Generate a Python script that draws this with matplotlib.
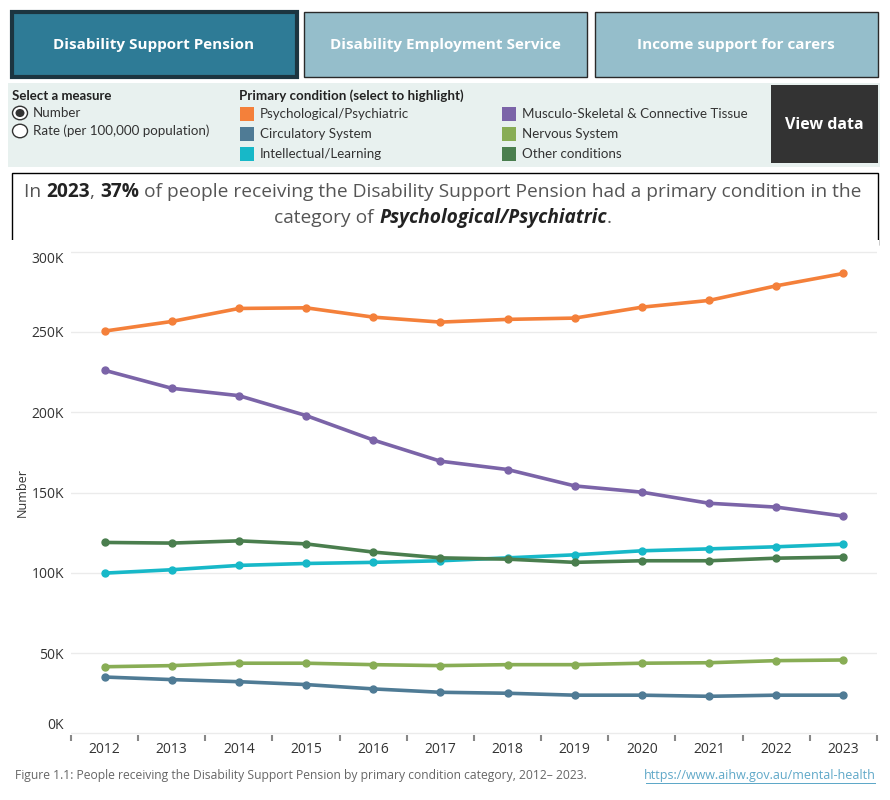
import matplotlib
matplotlib.use("Agg")
import matplotlib.pyplot as plt
from matplotlib.patches import Rectangle, Circle

plt.rcParams['font.family'] = ['Lato', 'DejaVu Sans']

years = [2012, 2013, 2014, 2015, 2016, 2017, 2018, 2019, 2020, 2021, 2022, 2023]
conditions = ["Psychological/Psychiatric", "Circulatory System", "Intellectual/Learning",
              "Musculo-Skeletal & Connective Tissue", "Nervous System", "Other conditions"]
colors = ["#F4803A", "#4F7B95", "#17B8C8", "#7B64A8", "#88AD55", "#4A7E4E"]

psych = [250500, 256500, 264600, 265000, 259200, 256100, 257800, 258600, 265400, 269600, 278700, 286400]
circ = [35100, 33500, 32200, 30400, 27700, 25600, 25000, 23800, 23800, 23100, 23800, 23800]
intel = [99800, 101900, 104600, 105800, 106500, 107500, 109300, 111200, 113700, 114900, 116200, 117800]
musc = [226100, 214900, 210300, 197900, 182700, 169500, 164300, 154100, 150200, 143300, 140900, 135300]
nerv = [41500, 42200, 43700, 43700, 42800, 42200, 42800, 42800, 43700, 44000, 45300, 45700]
other = [118900, 118500, 119900, 118000, 112900, 109300, 108500, 106500, 107500, 107500, 109100, 109800]
series = [psych, circ, intel, musc, nerv, other]

yticks = [0, 50000, 100000, 150000, 200000, 250000, 300000]
ytick_labels = ["0K", "50K", "100K", "150K", "200K", "250K", "300K"]

W, H = 890, 800
fig = plt.figure(figsize=(W / 100, H / 100), dpi=100, facecolor='white')


def fx(px):
    return px / W


def fy(py):
    return 1 - py / H


def box(x0, y0, x1, y1, **kw):
    r = Rectangle((fx(x0), fy(y1)), fx(x1) - fx(x0), fy(y0) - fy(y1),
                  transform=fig.transFigure, **kw)
    fig.add_artist(r)
    return r


# top buttons
box(12, 12, 297, 77, facecolor='#2E7B96', edgecolor='#1C3540', linewidth=3)
box(304, 12, 587, 77, facecolor='#95BECB', edgecolor='#2A2A2A', linewidth=1)
box(595, 12, 878, 77, facecolor='#95BECB', edgecolor='#2A2A2A', linewidth=1)
btn_font = dict(color='white', fontsize=11, fontweight='bold', ha='center', va='center',
                family=['Open Sans', 'DejaVu Sans'])
fig.text(fx(154), fy(45), "Disability Support Pension", **btn_font)
fig.text(fx(445), fy(45), "Disability Employment Service", **btn_font)
fig.text(fx(736), fy(45), "Income support for carers", **btn_font)

# control panel
box(8, 83, 880, 167, facecolor='#E8F1EF', edgecolor='none')
box(771, 85, 878, 163, facecolor='#333333', edgecolor='none')
fig.text(fx(824.5), fy(125), "View data", color='white', fontsize=11.5, fontweight='bold',
         ha='center', va='center', family=['Open Sans', 'DejaVu Sans'])

fig.text(fx(12), fy(96), "Select a measure", fontsize=9.5, fontweight='bold', color='#222222',
         va='center')
c1 = Circle((fx(20), fy(113)), 7.5 / W, transform=fig.transFigure, facecolor='white',
            edgecolor='#333333', linewidth=1)
fig.add_artist(c1)
c1b = Circle((fx(20), fy(113)), 4.5 / W, transform=fig.transFigure, facecolor='#333333',
             edgecolor='none')
fig.add_artist(c1b)
c2 = Circle((fx(20), fy(131)), 7.5 / W, transform=fig.transFigure, facecolor='white',
            edgecolor='#333333', linewidth=1)
fig.add_artist(c2)
fig.text(fx(33), fy(113), "Number", fontsize=9.6, color='#333333', va='center')
fig.text(fx(33), fy(131), "Rate (per 100,000 population)", fontsize=9.6, color='#333333',
         va='center')

fig.text(fx(239), fy(96), "Primary condition (select to highlight)", fontsize=9.6,
         fontweight='bold', color='#222222', va='center')
legend_pos = [(240, 114), (240, 134), (240, 154), (502, 114), (502, 134), (502, 154)]
for (lx, ly), name, col in zip(legend_pos, conditions, colors):
    box(lx, ly - 7, lx + 14, ly + 7, facecolor=col, edgecolor='none')
    fig.text(fx(lx + 20), fy(ly), name, fontsize=9.6, color='#333333', va='center')

# headline text box
box(12, 173, 878, 245, facecolor='white', edgecolor='black', linewidth=1)
box(11, 240, 879, 250, facecolor='white', edgecolor='none', zorder=5)

fig.canvas.draw()
renderer = fig.canvas.get_renderer()


def rich_line(parts, cy, size=13.8):
    arts = []
    for txt, weight, style in parts:
        t = fig.text(0, fy(cy), txt, fontsize=size, fontweight=weight, fontstyle=style,
                     color='#555555' if weight == 'normal' else '#222222', va='center',
                     family=['Open Sans', 'DejaVu Sans'])
        arts.append(t)
    widths = [a.get_window_extent(renderer).width for a in arts]
    x = 443 - sum(widths) / 2
    for a, w in zip(arts, widths):
        a.set_x(fx(x))
        x += w


rich_line([("In ", 'normal', 'normal'), ("2023", 'bold', 'normal'), (", ", 'normal', 'normal'),
           ("37%", 'bold', 'normal'),
           (" of people receiving the Disability Support Pension had a primary condition in the",
            'normal', 'normal')], 192)
rich_line([("category of ", 'normal', 'normal'), ("Psychological/Psychiatric", 'bold', 'italic'),
           (".", 'normal', 'normal')], 218)

# main chart
ax = fig.add_axes([fx(71), fy(735), fx(877) - fx(71), fy(250) - fy(735)])
for vals, col in zip(series, colors):
    ax.plot(years, vals, color=col, linewidth=2.6, marker='o', markersize=5,
            solid_capstyle='round')

ax.set_xlim(2011.5, 2023.5)
ax.set_ylim(-1000, 301000)
ax.set_yticks(yticks)
ax.set_yticklabels(ytick_labels)
ax.set_xticks(years)
ax.set_xticks([y - 0.5 for y in years] + [2023.5], minor=True)
ax.tick_params(axis='x', which='major', length=0, pad=5, labelsize=10, labelcolor='#333333')
ax.tick_params(axis='x', which='minor', length=4, width=1.5, color='#888888')
ax.tick_params(axis='y', length=0, pad=5, labelsize=10, labelcolor='#333333')
for lab in ax.get_xticklabels() + ax.get_yticklabels():
    lab.set_family(['Open Sans', 'DejaVu Sans'])
yt = ax.yaxis.get_major_ticks()
yt[0].label1.set_va('bottom')
yt[-1].label1.set_va('top')
ax.grid(axis='y', color='#EBEBEB', linewidth=1)
ax.set_axisbelow(True)
for s in ax.spines.values():
    s.set_visible(False)
ax.set_ylabel("Number", fontsize=9, color='#333333',
              family=['Open Sans', 'DejaVu Sans'])
ax.yaxis.set_label_coords(-0.053, 0.5)

fig.text(fx(15), fy(776), "Figure 1.1: People receiving the Disability Support Pension by primary "
         "condition category, 2012\u2013 2023.", fontsize=8.75, color='#666666', va='center',
         family=['Open Sans', 'DejaVu Sans'])
fig.text(fx(876), fy(776), "https://www.aihw.gov.au/mental-health", fontsize=9.0,
         color='#5FA8C8', va='center', ha='right', family=['Open Sans', 'DejaVu Sans'])
box(646, 783, 876, 783.8, facecolor='#5FA8C8', edgecolor='none')

fig.savefig("out.png", dpi=100, facecolor='white')
